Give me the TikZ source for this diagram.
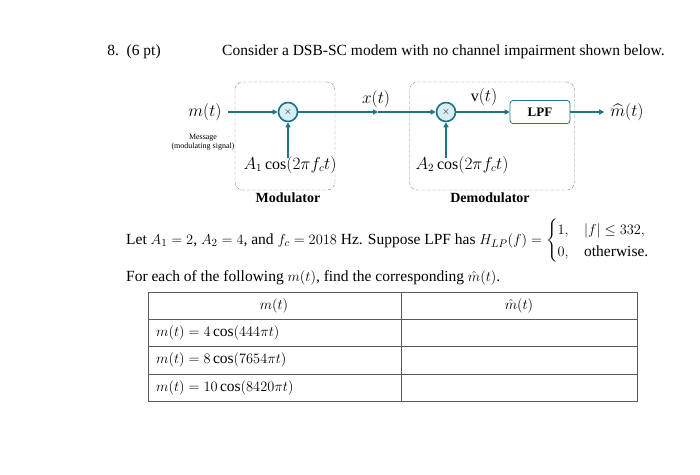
\documentclass[tikz,border=0pt]{standalone}
\usepackage{amsmath}
\usepackage{fontspec}
\setmainfont{Liberation Serif}
\usetikzlibrary{arrows.meta}
\definecolor{teal1}{RGB}{30,115,135}
\definecolor{lb}{RGB}{215,238,245}
\tikzset{
 sig/.style={draw=teal1,line width=1.4pt,-{Triangle[length=5pt,width=5pt]}},
 mult/.style={circle,draw=teal1,line width=1.6pt,fill=lb,minimum size=19pt,inner sep=0pt},
 grp/.style={draw=gray,densely dash dot,rounded corners=8pt},
 txt/.style={font=\fontsize{15.5}{18}\selectfont,inner sep=0pt},
 dl/.style={font=\fontsize{16}{18}\selectfont,inner sep=0pt},
 sm/.style={font=\fontsize{8}{9}\selectfont,inner sep=0pt,align=center},
}
\begin{document}
\begin{tikzpicture}[x=1pt,y=-1pt]
\useasboundingbox (0,0) rectangle (700,474);
\node[txt] (num) at (134,52) {8.\ \ (6 pt)};
\node[txt,anchor=west] (intro) at (222,52) {Consider a DSB-SC modem with no channel impairment shown below.};
\node[grp,minimum width=100pt,minimum height=108pt] (modbox) at (285,136) {};
\node[grp,minimum width=165pt,minimum height=108pt] (dembox) at (492,136) {};
\node[dl] (m) at (205,112) {$m(t)$};
\node[mult] (x1) at (288,112) {$\times$};
\node[mult] (x2) at (446,112) {$\times$};
\node[draw=teal1,rounded corners=3pt,line width=0.8pt,minimum width=60pt,minimum height=23pt,font=\bfseries\fontsize{13}{15}\selectfont] (lpf) at (540,112) {LPF};
\coordinate (xm) at (378,112);
\node[dl] (xl) at (376,99) {$x(t)$};
\node[dl] (vl) at (484,97) {$\mathrm{v}(t)$};
\node[dl] (out) at (627,112) {$\widehat{m}(t)$};
\node[sm] (msg) at (203,142) {Message\\(modulating signal)};
\node[dl] (c1) at (290,165) {$A_1\cos\!\left(2\pi f_c t\right)$};
\node[dl] (c2) at (462,165) {$A_2\cos\!\left(2\pi f_c t\right)$};
\node[txt,font=\bfseries\fontsize{14}{16}\selectfont] (modl) at (288,198) {Modulator};
\node[txt,font=\bfseries\fontsize{14}{16}\selectfont] (deml) at (490,198) {Demodulator};
\draw[sig] (m.east)++(6,0) -- (x1);
\draw[sig] (x1) -- (xm);
\draw[sig] (xm) -- (x2);
\draw[sig] (x2) -- (lpf);
\draw[sig] (lpf) -- ([xshift=-6pt]out.west);
\draw[sig] ([yshift=-2pt]c1.north -| x1) -- (x1);
\draw[sig] ([yshift=-2pt]c2.north -| x2) -- (x2);
\node[txt,anchor=west] (let) at (126,241) {Let $A_1=2$, $A_2=4$, and $f_c=2018$ Hz. Suppose LPF has $H_{LP}(f)=\begin{cases}1, & |f|\le 332,\\ 0, & \text{otherwise.}\end{cases}$};
\node[txt,anchor=west] (each) at (126,278) {For each of the following $m(t)$, find the corresponding $\hat m(t)$.};
\draw[gray!70!black,line width=0.6pt] (148,292) rectangle (637,401);
\draw[gray!70!black,line width=0.6pt] (148,319) -- (637,319) (148,346) -- (637,346) (148,374) -- (637,374) (401,292) -- (401,401);
\node[txt] (h1) at (274,306) {$m(t)$};
\node[txt] (h2) at (519,306) {$\hat m(t)$};
\node[txt,anchor=west] (r1) at (156,333) {$m(t)=4\cos(444\pi t)$};
\node[txt,anchor=west] (r2) at (156,360) {$m(t)=8\cos(7654\pi t)$};
\node[txt,anchor=west] (r3) at (156,388) {$m(t)=10\cos(8420\pi t)$};
\end{tikzpicture}
\end{document}
